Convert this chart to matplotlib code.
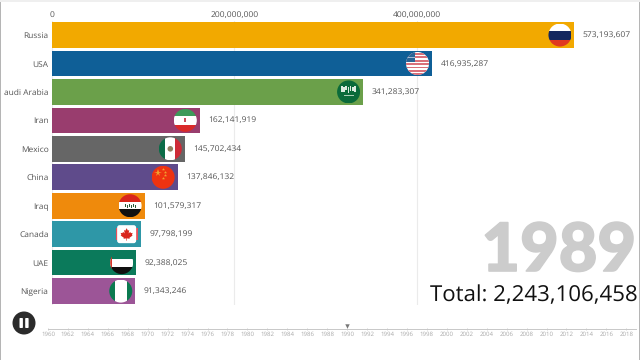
import matplotlib
matplotlib.use("Agg")
import matplotlib.pyplot as plt
import matplotlib.patheffects as pe
from matplotlib.patches import Circle, Rectangle, FancyBboxPatch, Polygon

countries = ["Russia", "USA", "audi Arabia", "Iran", "Mexico", "China", "Iraq", "Canada", "UAE", "Nigeria"]
values = [573193607, 416935287, 341283307, 162141919, 145702434, 137846132, 101579317, 97798199, 92388025, 91343246]
colors = ["#F2A900", "#0F5F97", "#6BA04A", "#993D6E", "#666666", "#5F4B8B", "#EF8A0C", "#2E97A7", "#0B7A5B", "#9C5597"]
x_ticks = [0, 200000000, 400000000]
year_label = "1989"
total_label = "Total: 2,243,106,458"
timeline_years = list(range(1960, 2020, 2))
timeline_marker = 1990

W, H = 640, 360
FONT = ["Open Sans", "DejaVu Sans"]
plt.rcParams["font.family"] = FONT
plt.rcParams["text.hinting"] = "none"

fig = plt.figure(figsize=(6.4, 3.6), dpi=100, facecolor="white")
PX_PER_VALUE = 182.3 / 200000000
L, T, B = 52, 20.8, 305.3
ax = fig.add_axes([L / W, 1 - B / H, (W - L) / W, (B - T) / H])
ax.set_xlim(0, (W - L) / PX_PER_VALUE)
ax.set_ylim(len(countries) - 0.5, -0.5)
ax.barh(range(len(countries)), values, height=0.9, color=colors, zorder=2)
ax.set_yticks(range(len(countries)), countries)
ax.set_xticks(x_ticks, [f"{v:,}" for v in x_ticks])
ax.xaxis.tick_top()
ax.tick_params(axis="x", length=0, labelsize=6.1, labelcolor="#555555", pad=1.5)
ax.tick_params(axis="y", length=0, labelsize=6.0, labelcolor="#555555", pad=2.5)
ax.grid(axis="x", color="#EBEBEB", lw=0.8, zorder=0)
ax.set_axisbelow(True)
for s in ax.spines.values():
    s.set_visible(False)
ax.patch.set_alpha(0)
for i, v in enumerate(values):
    ax.annotate(f"{v:,}", (v, i), xytext=(6, 0), textcoords="offset points", va="center",
                ha="left", fontsize=6.1, color="#555555", zorder=3)

ov = fig.add_axes([0, 0, 1, 1], zorder=5)
ov.set_xlim(0, W)
ov.set_ylim(H, 0)
ov.axis("off")

R = 11.5
LEAF = [(0, -6), (1.3, -3.5), (2.6, -4.2), (2, -0.8), (3.6, -2.3), (4.2, -1), (6, -1.3), (5.3, 0.8), (6, 1.3),
        (2.8, 3.6), (3.1, 4.6), (0.3, 4.2), (0.3, 6.5), (-0.3, 6.5), (-0.3, 4.2), (-3.1, 4.6), (-2.8, 3.6),
        (-6, 1.3), (-5.3, 0.8), (-6, -1.3), (-4.2, -1), (-3.6, -2.3), (-2, -0.8), (-2.6, -4.2), (-1.3, -3.5)]


def flag(cx, cy, name):
    clip = Circle((cx, cy), R, transform=ov.transData)

    def rect(x0, y0, w, h, c):
        p = Rectangle((cx + x0, cy + y0), w, h, fc=c, ec="none", zorder=6)
        ov.add_patch(p)
        p.set_clip_path(clip)
        return p

    if name == "Russia":
        rect(-R, -R, 2 * R, 7.5, "#FFFFFF"); rect(-R, -4, 2 * R, 8.5, "#14285E"); rect(-R, 4.5, 2 * R, 7, "#E0391F")
    elif name == "USA":
        rect(-R, -R, 2 * R, 2 * R, "#FFFFFF")
        for k in range(7):
            rect(-R, -R + 3.4 * k + 1, 2 * R, 1.8, "#D9707A")
        rect(-R, -R, 9, 10.5, "#2A6496")
        for k in range(3):
            rect(-R, -R + 3.4 * k + 1.8, 9, 0.7, "#9FBBD4")
    elif name == "audi Arabia":
        rect(-R, -R, 2 * R, 2 * R, "#0B6B3A")
        for k in range(7):
            rect(-7.5 + 2.2 * k, -6 + (k % 2), 1.5, 6.5 - (k % 3), "#DCEBDF")
        rect(-5, 3.5, 10, 0.9, "#A9CDB5")
    elif name == "Iran":
        rect(-R, -R, 2 * R, 7.5, "#3E9A5A"); rect(-R, -4, 2 * R, 9, "#FFFFFF"); rect(-R, 5, 2 * R, 7, "#DA2A2A")
        rect(-1.2, -2, 2.4, 4, "#C9505C")
    elif name == "Mexico":
        rect(-R, -R, 6.5, 2 * R, "#0B6B47"); rect(-5, -R, 10, 2 * R, "#FFFFFF"); rect(5, -R, 7, 2 * R, "#CE2B37")
        ov.add_patch(Circle((cx, cy), 2.8, fc="#8F8060", ec="none", zorder=7))
    elif name == "China":
        rect(-R, -R, 2 * R, 2 * R, "#EE3311")
        ov.plot([cx - 5], [cy - 4], marker="*", ms=5.5, color="#F2A030", zorder=7, mew=0)
        ov.plot([cx, cx + 2, cx + 2, cx], [cy - 8, cy - 5, cy - 2, cy + 1], ls="none", marker="*",
                ms=2.4, color="#F2A030", zorder=7, mew=0)
    elif name == "Iraq":
        rect(-R, -R, 2 * R, 8, "#D9261C"); rect(-R, -3.5, 2 * R, 7, "#FFFFFF"); rect(-R, 3.5, 2 * R, 8, "#101010")
        for k in range(6):
            rect(-5.5 + 2 * k, -1.6 + 0.4 * (k % 2), 1.3, 3, "#2A5B3C")
    elif name == "Canada":
        ov.add_patch(Rectangle((cx - 11, cy - 6), 2.5, 12, fc="#E8505A", ec="none", zorder=6))
        ov.add_patch(Rectangle((cx + 8.5, cy - 6), 2.5, 12, fc="#E8505A", ec="none", zorder=6))
        ov.add_patch(FancyBboxPatch((cx - 9.5, cy - 9), 19, 18, boxstyle="round,pad=0,rounding_size=2.5",
                                    fc="white", ec="none", zorder=6))
        ov.add_patch(Polygon([(cx + a, cy + b) for a, b in LEAF], fc="#D9251D", ec="none", zorder=7))
    elif name == "UAE":
        rect(-R, -R, 2 * R, 7.5, "#0B7A5B"); rect(-R, -4, 2 * R, 8, "#FFFFFF"); rect(-R, 4, 2 * R, 8, "#101010")
        rect(-R, -R, 2.2, 2 * R, "#D8352A")
    elif name == "Nigeria":
        rect(-R, -R, 5.5, 2 * R, "#0B7A50"); rect(-6, -R, 12, 2 * R, "#FFFFFF"); rect(6, -R, 6, 2 * R, "#0B7A50")


fig.canvas.draw()
for i, (name, v) in enumerate(zip(countries, values)):
    px, py = ax.transData.transform((v, i))
    flag(px - 14.5, H - py, name)

ov.text(636, 271, year_label, fontsize=48, family="Lato", fontweight="black", color="#CCCCCC",
        ha="right", va="baseline", zorder=4,
        path_effects=[pe.withStroke(linewidth=1.2, foreground="#CCCCCC")])
ov.text(638, 301, total_label, fontsize=16, color="#111111", ha="right", va="baseline", zorder=4)

tl = fig.add_axes([48 / W, 1 - 331 / H, 588 / W, 2 / H], zorder=4)
tl.set_xlim(1960, 1960 + 588 / 9.97)
tl.set_ylim(0, 1)
tl.patch.set_alpha(0)
for s in ["left", "right", "bottom"]:
    tl.spines[s].set_visible(False)
tl.spines["top"].set_color("#C8C8C8")
tl.spines["top"].set_linewidth(0.7)
tl.set_yticks([])
tl.set_xticks(timeline_years, [str(y) for y in timeline_years])
tl.tick_params(axis="x", length=0, pad=0.5, labelsize=4.4, labelcolor="#AAAAAA", top=False, bottom=False)
tl.plot(timeline_years, [1] * len(timeline_years), ls="none", marker="|", ms=2, mew=0.5, color="#C0C0C0", clip_on=False)
marker_y = 1 + 3 / 2
tl.plot([timeline_marker], [marker_y], marker="v", ms=3.2, color="#777777", mew=0, clip_on=False)

ov.add_patch(Circle((24, 323), 11.5, fc="#2B2B2B", ec="none", zorder=6))
ov.add_patch(FancyBboxPatch((19.5, 318), 3.4, 10, boxstyle="round,pad=0,rounding_size=0.8", fc="white", ec="none", zorder=7))
ov.add_patch(FancyBboxPatch((25.2, 318), 3.4, 10, boxstyle="round,pad=0,rounding_size=0.8", fc="white", ec="none", zorder=7))

ov.add_patch(Rectangle((0, 0), 1.2, H, fc="#B5B5B5", ec="none", zorder=8))
ov.add_patch(Rectangle((638.8, 0), 1.2, H, fc="#B5B5B5", ec="none", zorder=8))
ov.add_patch(Rectangle((0, 0), W, 1.5, fc="#EFEFEF", ec="none", zorder=8))

fig.savefig("out.png", dpi=100)
